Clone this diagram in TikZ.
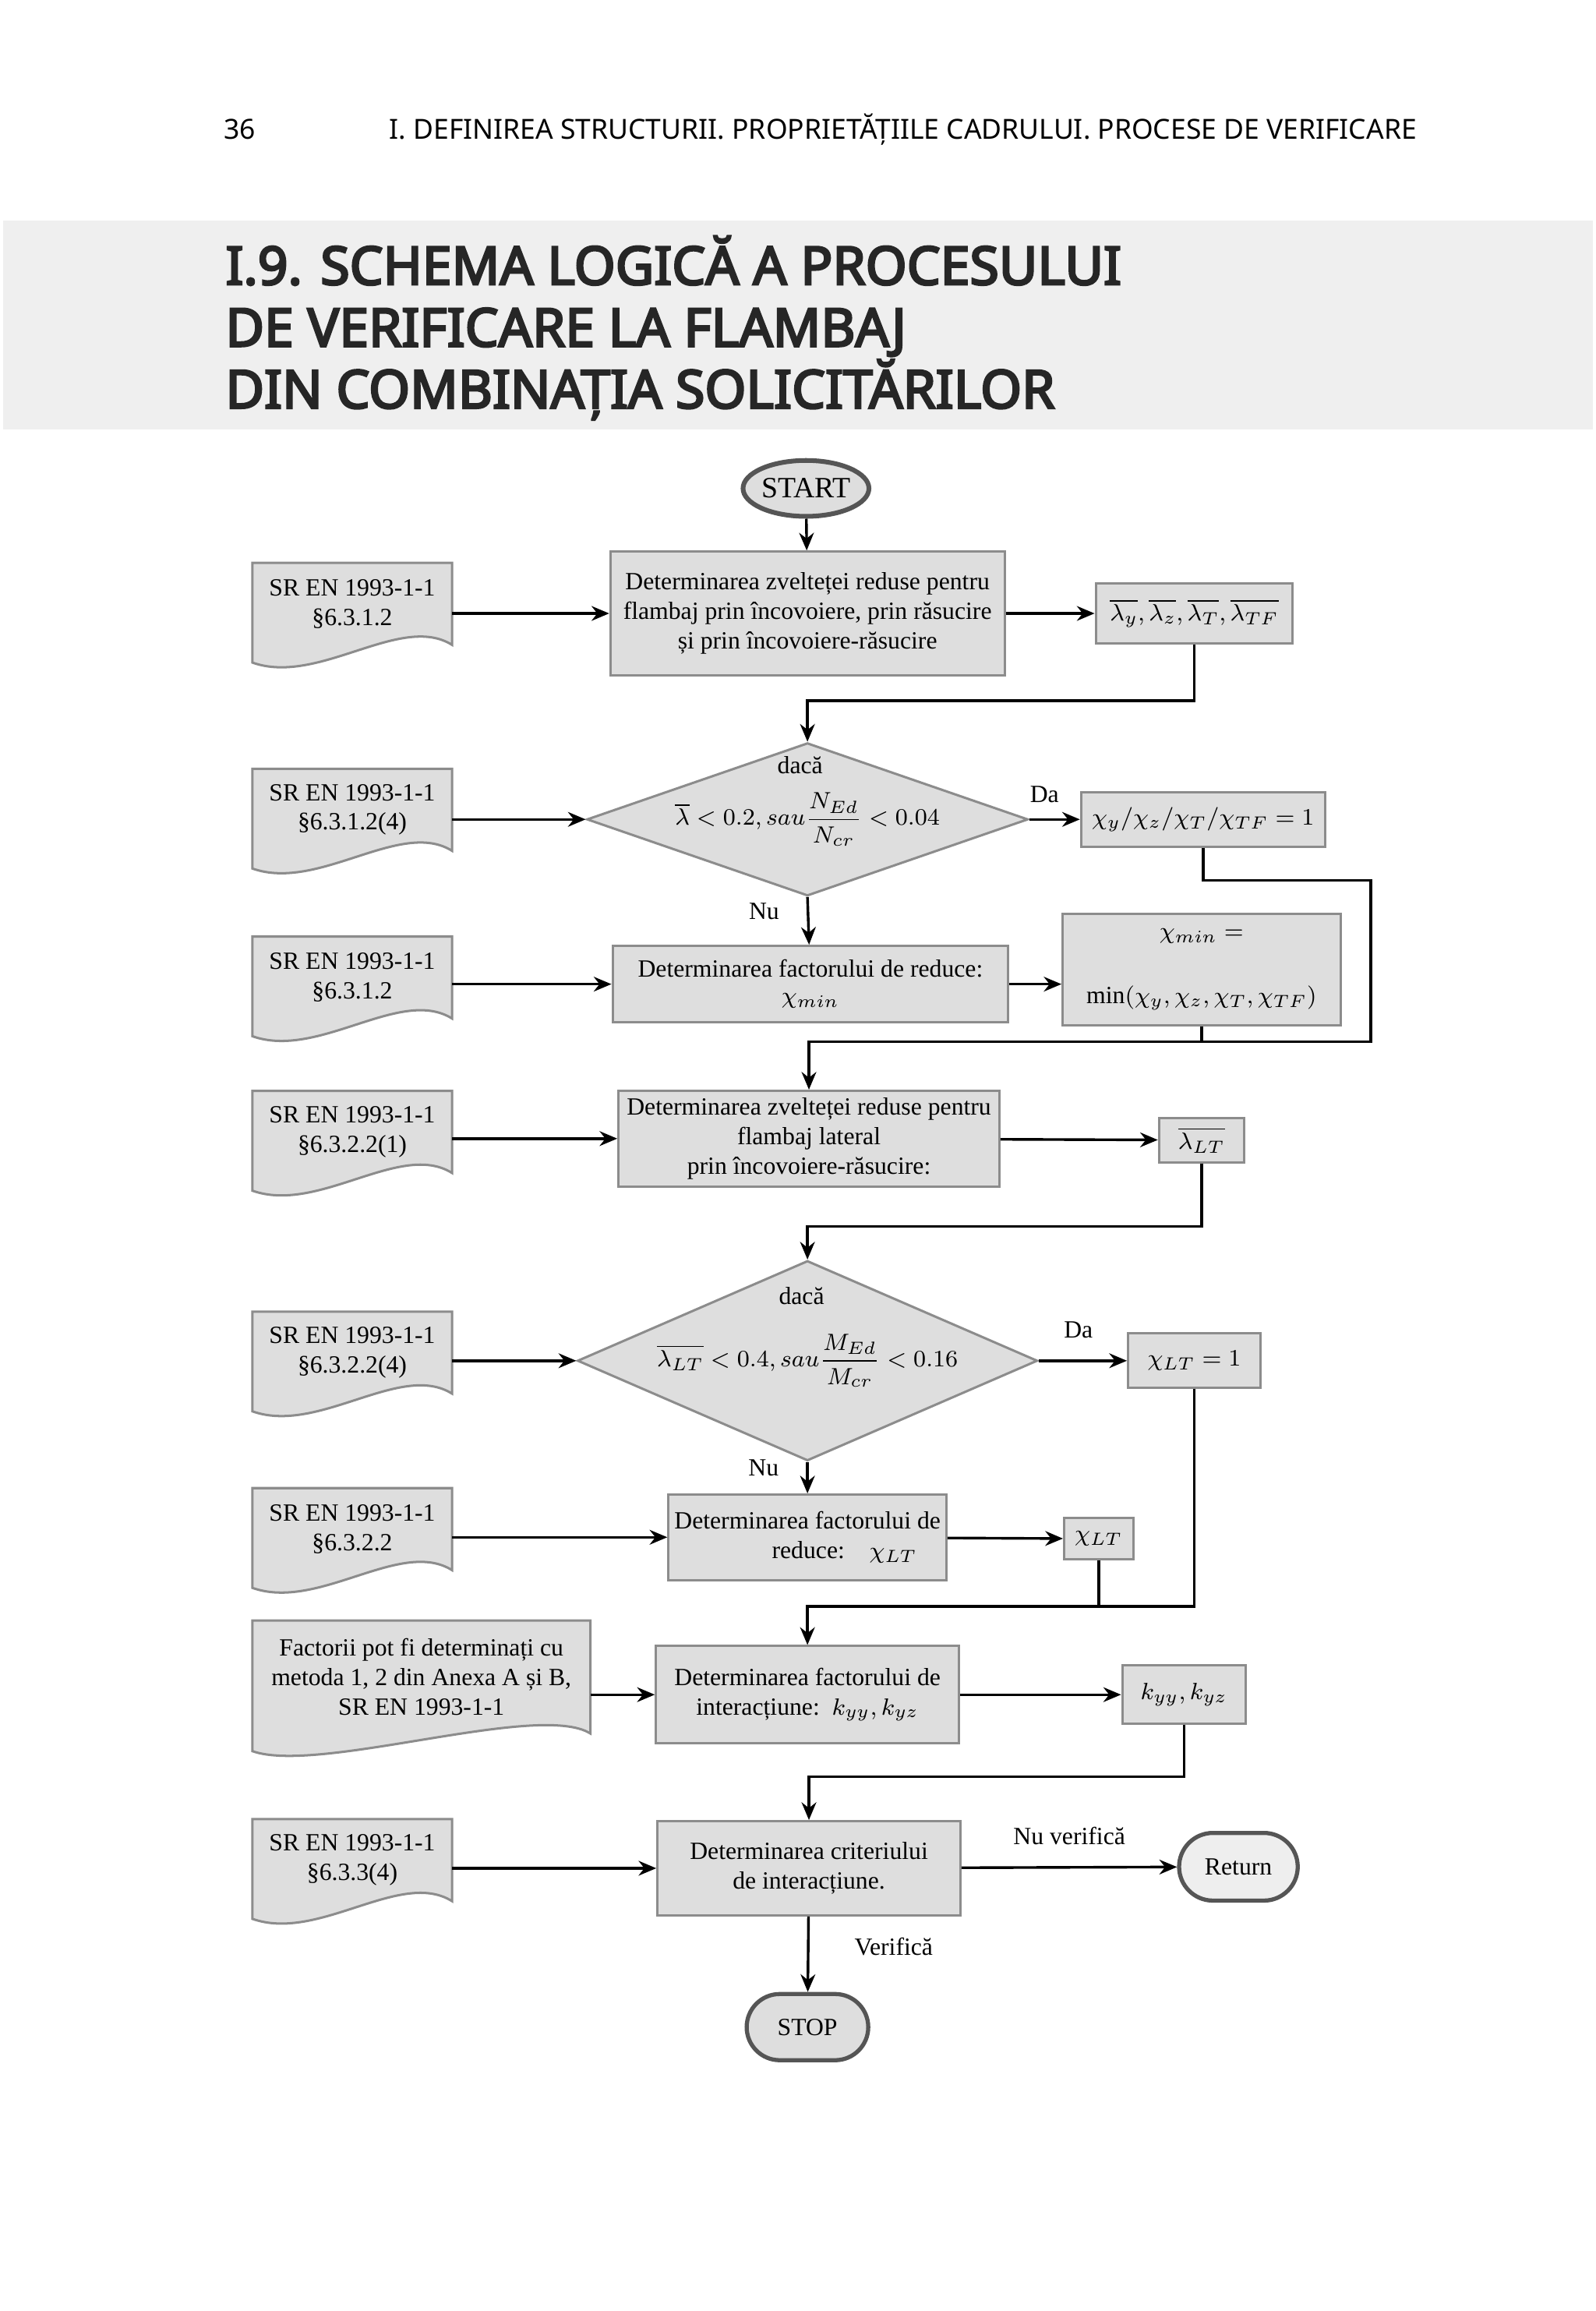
\documentclass[tikz,border=0pt]{standalone}
\usepackage{fontspec}
\setmainfont{Liberation Serif}
\newfontfamily\headfont{Noto Sans}
\newfontfamily\titlefont{Noto Sans}[FakeBold=4]
\usepackage{amsmath}
\usetikzlibrary{arrows.meta,calc,shapes.geometric,shapes.misc}
\definecolor{boxfill}{HTML}{DEDEDE}
\definecolor{boxline}{HTML}{8C8C8C}
\definecolor{termline}{HTML}{555555}
\definecolor{band}{HTML}{EFEFEF}
\tikzset{
	box/.style={rectangle, fill=boxfill, draw=boxline, line width=0.8pt, align=center, font=\fontsize{8.4}{10}\selectfont, inner sep=2pt},
	cond/.style={diamond, shape aspect=3, fill=boxfill, draw=boxline, line width=0.8pt, font=\fontsize{8.4}{10}\selectfont, inner sep=0pt},
	doc/.style={rectangle, minimum width=67.5pt, minimum height=27.5pt, align=center, font=\fontsize{8.4}{10}\selectfont},
	term/.style={rounded rectangle, fill=boxfill, draw=termline, line width=1.4pt, font=\fontsize{8.4}{10}\selectfont},
	lbl/.style={font=\fontsize{8.4}{10}\selectfont},
	arr/.style={-{Stealth[length=6pt,width=5pt]}, line width=0.9pt},
	ln/.style={line width=0.9pt},
}
\newcommand{\docwave}[2]{%
	\filldraw[fill=boxfill, draw=boxline, line width=0.8pt]
	(#1.north west) -- (#1.north east) -- (#1.south east)
	.. controls +(-35,-22) and +(45,16) .. ($(#1.south west)+(0,12)$) -- cycle;
	\node[doc] at (#1) {#2};}
\begin{document}
\begin{tikzpicture}[x=0.5pt,y=-0.5pt]
	\useasboundingbox (0,0) rectangle (1085,1571);
	% header
	\node[anchor=west, font=\headfont\fontsize{9.4}{11}\selectfont] (page) at (145,88) {36};
	\node[font=\headfont\fontsize{9.4}{11}\selectfont] (head) at (614,88) {I. DEFINIREA STRUCTURII. PROPRIETĂȚIILE CADRULUI. PROCESE DE VERIFICARE};
	\fill[band] (2,150) rectangle (1083,292);
	\node[anchor=north west, align=left, text=black!85, font=\titlefont\fontsize{18}{21}\selectfont, inner sep=0pt] (title) at (153,160)
		{I.9. SCHEMA LOGICĂ A PROCESULUI\\DE VERIFICARE LA FLAMBAJ\\DIN COMBINAȚIA SOLICITĂRILOR};

	% main column
	\node[ellipse, fill=boxfill, draw=termline, line width=1.6pt, minimum width=36pt, minimum height=19pt, inner sep=0pt, font=\fontsize{10}{12}\selectfont] (start) at (548,332) {START};
	\node[box, minimum width=134pt, minimum height=42pt] (b1) at (549,417) {Determinarea zvelteței reduse pentru\\flambaj prin încovoiere, prin răsucire\\și prin încovoiere-răsucire};
	\node[cond, minimum width=150pt, minimum height=52pt] (q1) at (549,557) {$\overline{\lambda}<0.2, sau\dfrac{N_{Ed}}{N_{cr}}<0.04$};
	\node[lbl] (q1t) at (544,520) {dacă};
	\node[box, minimum width=134.5pt, minimum height=26pt] (b2) at (551,669) {Determinarea factorului de reduce:\\[-1pt]$\chi_{min}$};
	\node[box, minimum width=129.5pt, minimum height=32.5pt] (b4) at (550,774) {Determinarea zvelteței reduse pentru\\flambaj lateral\\prin încovoiere-răsucire:};
	\node[cond, minimum width=152pt, minimum height=68pt] (q2) at (549,925) {$\overline{\lambda_{LT}}<0.4, sau\dfrac{M_{Ed}}{M_{cr}}<0.16$};
	\node[lbl] (q2t) at (545,881) {dacă};
	\node[box, minimum width=94pt, minimum height=29pt] (b6) at (549,1045) {Determinarea factorului de\\\hspace*{3em}reduce:\quad$\chi_{LT}$};
	\node[box, minimum width=103pt, minimum height=33pt] (b7) at (549,1152) {Determinarea factorului de\\interacțiune:\ \ $k_{yy}, k_{yz}$};
	\node[box, minimum width=103pt, minimum height=32pt] (b8) at (550,1270) {Determinarea criteriului\\de interacțiune.};
	\node[term, minimum width=48pt, minimum height=22.5pt] (stop) at (549,1378) {STOP};
	\node[term, fill=boxfill!50, minimum width=47pt, minimum height=23pt] (ret) at (842,1269) {Return};

	% results
	\node[box, minimum width=67pt, minimum height=20.5pt] (o1) at (812,417) {$\overline{\lambda_y}, \overline{\lambda_z}, \overline{\lambda_T}, \overline{\lambda_{TF}}$};
	\node[box, minimum width=83pt, minimum height=18.5pt] (o2) at (818,557) {$\chi_y/\chi_z/\chi_T/\chi_{TF}=1$};
	\node[box, minimum width=94.5pt, minimum height=38pt] (o3) at (817,659) {$\chi_{min}=$\\[12pt]$\min(\chi_y,\chi_z,\chi_T,\chi_{TF})$};
	\node[box, minimum width=29pt, minimum height=15pt] (o4) at (817,775) {$\overline{\lambda_{LT}}$};
	\node[box, minimum width=45pt, minimum height=18.5pt] (o5) at (812,925) {$\chi_{LT}=1$};
	\node[box, minimum width=23.5pt, minimum height=14pt] (o6) at (747,1046) {$\chi_{LT}$};
	\node[box, minimum width=42pt, minimum height=20pt] (o7) at (805,1152) {$k_{yy}, k_{yz}$};

	% references
	\node[doc] (d1) at (239.5,410.5) {};
	\node[doc] (d2) at (239.5,550.5) {};
	\node[doc] (d3) at (239.5,664.5) {};
	\node[doc] (d4) at (239.5,769.5) {};
	\node[doc] (d5) at (239.5,919.5) {};
	\node[doc] (d6) at (239.5,1039.5) {};
	\node[doc, minimum width=114.5pt, minimum height=38pt] (d7) at (286.5,1140) {};
	\node[doc] (d8) at (239.5,1264.5) {};
	\docwave{d1}{SR EN 1993-1-1\\§6.3.1.2}
	\docwave{d2}{SR EN 1993-1-1\\§6.3.1.2(4)}
	\docwave{d3}{SR EN 1993-1-1\\§6.3.1.2}
	\docwave{d4}{SR EN 1993-1-1\\§6.3.2.2(1)}
	\docwave{d5}{SR EN 1993-1-1\\§6.3.2.2(4)}
	\docwave{d6}{SR EN 1993-1-1\\§6.3.2.2}
	\docwave{d7}{Factorii pot fi determinați cu\\metoda 1, 2 din Anexa A și B,\\SR EN 1993-1-1}
	\docwave{d8}{SR EN 1993-1-1\\§6.3.3(4)}

	% flow
	\draw[arr] (start) -- (b1);
	\draw[arr] (b1) -- (o1);
	\draw[arr] (o1.south) -- ++(0,38) -| (q1.north);
	\draw[arr] (q1) -- node[lbl, pos=0.3, above=2pt] {Da} (o2);
	\draw[arr] (q1.south) -- node[lbl, pos=0.3, left=6pt] {Nu} (b2);
	\draw[arr] (b2) -- (o3.west |- b2);
	\coordinate (r1) at (932,708);
	\draw[arr] (o2.south) -- ++(0,22) -| (r1) -| (b4.north);
	\draw[ln] (o3.south) -- (o3.south |- r1);
	\draw[arr] (b4) -- (o4);
	\draw[arr] (o4.south) -- ++(0,43) -| (q2.north);
	\draw[arr] (q2) -- node[lbl, pos=0.45, above=4pt] {Da} (o5);
	\draw[arr] (q2.south) -- node[lbl, pos=0.2, left=6pt] {Nu} (b6);
	\draw[arr] (b6) -- (o6);
	\coordinate (j2) at (812,1092);
	\draw[arr] (o5.south) -- (j2) -| (b7.north);
	\draw[ln] (o6.south) -- (o6.south |- j2);
	\draw[arr] (b7) -- (o7);
	\draw[arr] (o7.south) -- ++(0,35) -| (b8.north);
	\draw[arr] (b8) -- node[lbl, above=4pt] {Nu verifică} (ret);
	\draw[arr] (b8) -- node[lbl, pos=0.4, right=12pt] {Verifică} (stop);

	% references to steps
	\draw[arr] (d1.east |- b1) -- (b1);
	\draw[arr] (d2.east |- q1) -- (q1);
	\draw[arr] (d3.east |- b2) -- (b2);
	\draw[arr] (d4.east |- b4) -- (b4);
	\draw[arr] (d5.east |- q2) -- (q2);
	\draw[arr] (d6.east |- b6) -- (b6);
	\draw[arr] (d7.east |- b7) -- (b7);
	\draw[arr] (d8.east |- b8) -- (b8);
\end{tikzpicture}
\end{document}
